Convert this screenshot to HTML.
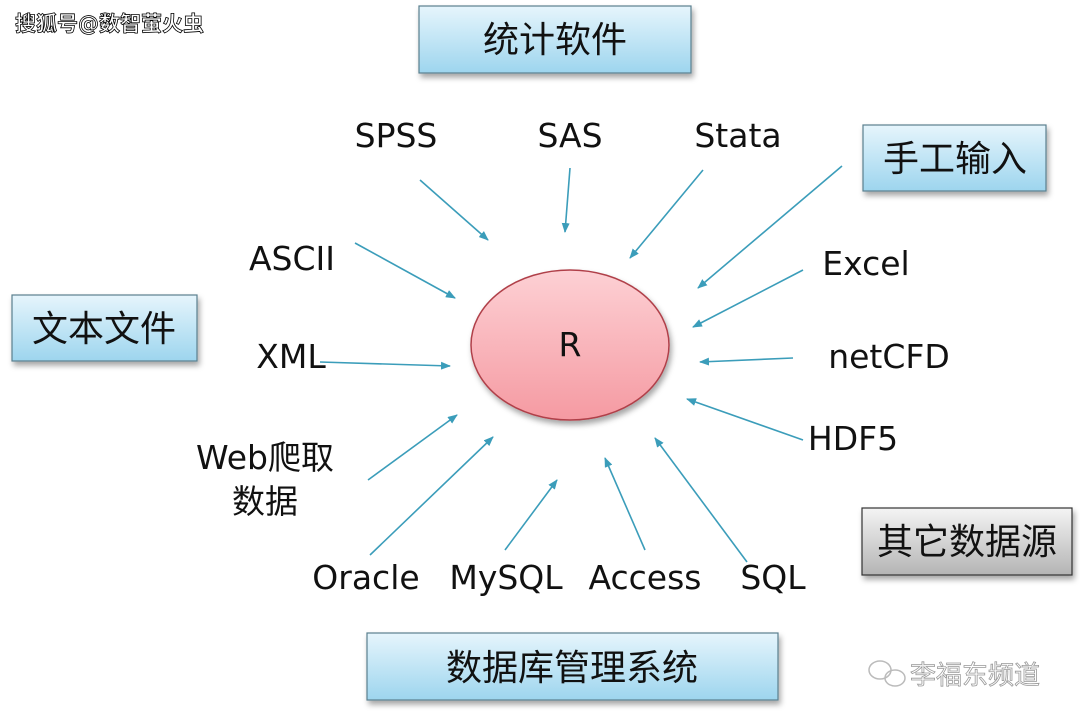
<!DOCTYPE html>
<html><head><meta charset="utf-8"><style>
html,body{margin:0;padding:0;background:#fff;width:1080px;height:721px;overflow:hidden}
svg text{font-family:"DejaVu Sans","Noto Sans CJK SC",sans-serif}
</style></head><body>
<svg width="1080" height="721" viewBox="0 0 1080 721" xmlns="http://www.w3.org/2000/svg">
<defs>
<linearGradient id="bl" x1="0" y1="0" x2="0" y2="1"><stop offset="0" stop-color="#e6f5fc"/><stop offset="1" stop-color="#9dd5ee"/></linearGradient>
<linearGradient id="gr" x1="0" y1="0" x2="0" y2="1"><stop offset="0" stop-color="#f4f4f4"/><stop offset="1" stop-color="#b4b4b4"/></linearGradient>
<linearGradient id="pk" x1="0" y1="0" x2="0" y2="1"><stop offset="0" stop-color="#fdd0d4"/><stop offset="1" stop-color="#f59aa2"/></linearGradient>
<filter id="sh" x="-10%" y="-20%" width="120%" height="150%"><feDropShadow dx="2" dy="4" stdDeviation="3" flood-color="#000" flood-opacity="0.35"/></filter>
<marker id="ah" markerWidth="10" markerHeight="8" refX="9" refY="4" orient="auto" markerUnits="userSpaceOnUse"><path d="M0,0 L10,4 L0,8 z" fill="#3b9dba"/></marker>
</defs>
<g filter="url(#sh)" stroke="#5a7f8e" stroke-width="1.2">
<rect x="419" y="6" width="272" height="67" fill="url(#bl)"/>
<rect x="863" y="125" width="183" height="66" fill="url(#bl)"/>
<rect x="12" y="295" width="185" height="66" fill="url(#bl)"/>
<rect x="367" y="633" width="411" height="67" fill="url(#bl)"/>
<rect x="862" y="508" width="210" height="67" fill="url(#gr)" stroke="#333"/>
</g>
<ellipse cx="570" cy="345" rx="99" ry="75" fill="url(#pk)" stroke="#b0404a" stroke-width="1.5" filter="url(#sh)"/>
<g stroke="#3b9dba" stroke-width="1.6" marker-end="url(#ah)">
<line x1="420" y1="180" x2="488" y2="240"/>
<line x1="570" y1="168" x2="565" y2="232"/>
<line x1="703" y1="170" x2="630" y2="258"/>
<line x1="842" y1="166" x2="698" y2="288"/>
<line x1="803" y1="270" x2="693" y2="327"/>
<line x1="793" y1="358" x2="700" y2="362"/>
<line x1="803" y1="440" x2="687" y2="399"/>
<line x1="747" y1="562" x2="655" y2="438"/>
<line x1="645" y1="550" x2="605" y2="458"/>
<line x1="505" y1="550" x2="557" y2="480"/>
<line x1="370" y1="555" x2="493" y2="437"/>
<line x1="368" y1="480" x2="457" y2="415"/>
<line x1="320" y1="362" x2="450" y2="366"/>
<line x1="355" y1="243" x2="455" y2="298"/>
</g>
<g font-size="36" fill="#111" text-anchor="middle">
<text x="555" y="52">统计软件</text>
<text x="955" y="171">手工输入</text>
<text x="104" y="341">文本文件</text>
<text x="572" y="680">数据库管理系统</text>
<text x="967" y="554">其它数据源</text>
</g>
<g font-size="33" fill="#111" text-anchor="middle">
<text x="570" y="356">R</text>
<text x="396" y="147">SPSS</text>
<text x="570" y="147">SAS</text>
<text x="738" y="147">Stata</text>
<text x="292" y="270">ASCII</text>
<text x="866" y="275">Excel</text>
<text x="291" y="368">XML</text>
<text x="889" y="368">netCFD</text>
<text x="853" y="450">HDF5</text>
<text x="265" y="469">Web爬取</text>
<text x="265" y="513">数据</text>
<text x="366" y="589">Oracle</text>
<text x="506" y="589">MySQL</text>
<text x="645" y="589">Access</text>
<text x="773" y="589">SQL</text>
</g>
<text x="15" y="31" font-size="21" font-weight="bold" fill="#fff" stroke="#000" stroke-width="0.8">搜狐号@数智萤火虫</text>
<g fill="none" stroke="#bbb" stroke-width="1.5">
<ellipse cx="880" cy="670" rx="11" ry="9"/><ellipse cx="895" cy="678" rx="10" ry="8"/>
</g>
<text x="910" y="684" font-size="26" fill="#fff" stroke="#999" stroke-width="0.8">李福东频道</text>
</svg>
</body></html>
